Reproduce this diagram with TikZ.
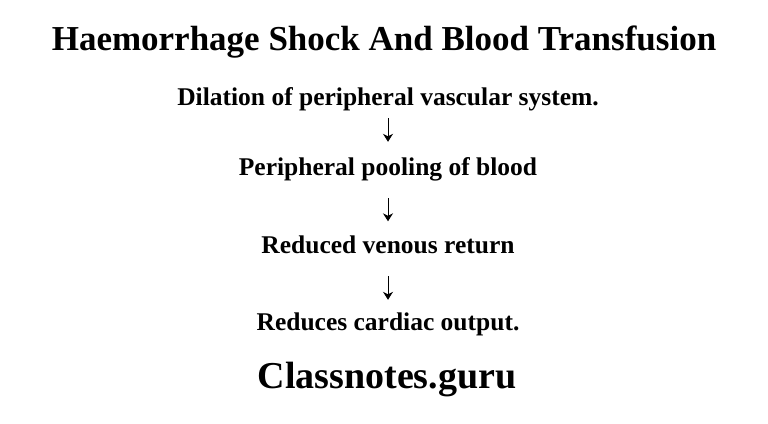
\documentclass[tikz,border=0pt]{standalone}
\usepackage{fontspec}
\setmainfont{Liberation Serif}
\usetikzlibrary{arrows.meta}

\tikzset{
	steptext/.style={font=\fontsize{25.5}{28}\selectfont\bfseries, inner sep=0pt, text height=17pt, text depth=6pt},
	flowarrow/.style={-{Stealth[length=8pt,width=10pt,inset=2.5pt]}, line width=1pt, shorten <=16.5pt, shorten >=15pt}
}

\begin{document}
\begin{tikzpicture}[x=1pt,y=1pt]
			\useasboundingbox[fill=white] (0,0) rectangle (768,-423);
			% \draw[style=help lines,step=50] (0,0) grid (768,-423);

			\node[font=\fontsize{35}{38}\selectfont\bfseries, inner sep=0pt] (title) at (384,-42) {Haemorrhage Shock And Blood Transfusion};

			\node[steptext] (dilation) at (388,-100) {Dilation of peripheral vascular system.};
			\node[steptext] (pooling) at (388,-170) {Peripheral pooling of blood};
			\node[steptext] (venous) at (388,-248) {Reduced venous return};
			\node[steptext] (cardiac) at (388,-325) {Reduces cardiac output.};

			\node[font=\fontsize{38}{42}\selectfont\bfseries, inner sep=0pt] (site) at (387,-380) {Classnotes.guru};

			\draw[flowarrow, shorten <=6.5pt, shorten >=16.5pt] (dilation) -- (pooling);
			\draw[flowarrow] (pooling) -- (venous);
			\draw[flowarrow, shorten >=13.5pt] (venous) -- (cardiac);
		\end{tikzpicture}
\end{document}
